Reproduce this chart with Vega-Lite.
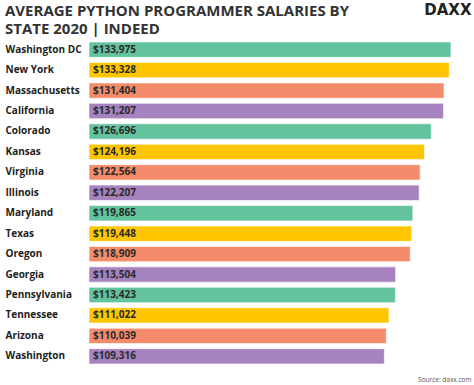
{
  "$schema": "https://vega.github.io/schema/vega-lite/v6.json",
  "width": 474,
  "height": 385,
  "autosize": {"type": "fit", "contains": "padding"},
  "padding": {"left": 5, "right": 3, "top": 2, "bottom": 2},
  "background": "white",
  "title": {
    "text": ["AVERAGE PYTHON PROGRAMMER SALARIES BY", "STATE 2020 | INDEED"],
    "anchor": "start",
    "font": "Open Sans",
    "fontSize": 15,
    "fontWeight": "bold",
    "color": "#333333",
    "lineHeight": 18,
    "offset": -35
  },
  "data": {
    "values": [
      {"state": "Washington DC", "salary": 133975, "group": "1"},
      {"state": "New York", "salary": 133328, "group": "2"},
      {"state": "Massachusetts", "salary": 131404, "group": "3"},
      {"state": "California", "salary": 131207, "group": "4"},
      {"state": "Colorado", "salary": 126696, "group": "1"},
      {"state": "Kansas", "salary": 124196, "group": "2"},
      {"state": "Virginia", "salary": 122564, "group": "3"},
      {"state": "Illinois", "salary": 122207, "group": "4"},
      {"state": "Maryland", "salary": 119865, "group": "1"},
      {"state": "Texas", "salary": 119448, "group": "2"},
      {"state": "Oregon", "salary": 118909, "group": "3"},
      {"state": "Georgia", "salary": 113504, "group": "4"},
      {"state": "Pennsylvania", "salary": 113423, "group": "1"},
      {"state": "Tennessee", "salary": 111022, "group": "2"},
      {"state": "Arizona", "salary": 110039, "group": "3"},
      {"state": "Washington", "salary": 109316, "group": "4"}
    ]
  },
  "encoding": {
    "y": {
      "field": "state",
      "type": "nominal",
      "sort": null,
      "scale": {"paddingInner": 0.25, "paddingOuter": 0.1},
      "axis": {
        "title": null,
        "domain": false,
        "ticks": false,
        "labelAlign": "left",
        "labelPadding": 84,
        "labelFont": "Open Sans",
        "labelFontSize": 10,
        "labelFontWeight": "bold",
        "labelColor": "#222222"
      }
    }
  },
  "layer": [
    {
      "mark": {"type": "bar", "stroke": "#ffffff", "strokeOpacity": 0.6, "strokeWidth": 1},
      "encoding": {
        "x": {
          "field": "salary",
          "type": "quantitative",
          "scale": {"domain": [0, 141400], "nice": false},
          "axis": {
            "orient": "bottom",
            "labels": false,
            "ticks": false,
            "domain": false,
            "grid": false,
            "title": "Source: daxx.com",
            "titleAnchor": "end",
            "titleFont": "Open Sans",
            "titleFontSize": 6.5,
            "titleFontWeight": "normal",
            "titleColor": "#555555",
            "titlePadding": 10
          }
        },
        "color": {
          "field": "group",
          "type": "nominal",
          "legend": null,
          "scale": {"domain": ["1", "2", "3", "4"], "range": ["#63c39d", "#fec601", "#f48b6a", "#a683be"]}
        }
      }
    },
    {
      "mark": {"type": "text", "align": "left", "dx": 4, "font": "Open Sans", "fontSize": 10, "fontWeight": "bold", "color": "#2a2a2a"},
      "encoding": {
        "x": {
          "datum": 0,
          "type": "quantitative",
          "axis": {
            "orient": "top",
            "labels": false,
            "ticks": false,
            "domain": false,
            "grid": false,
            "title": "DAXX",
            "titleAnchor": "end",
            "titleFont": "DejaVu Sans",
            "titleFontSize": 15,
            "titleFontWeight": "bold",
            "titleColor": "#222222",
            "titleBaseline": "alphabetic",
            "titleY": -26
          }
        },
        "text": {"field": "salary", "type": "quantitative", "format": "$,d"}
      }
    }
  ],
  "resolve": {"axis": {"x": "independent"}},
  "config": {"view": {"stroke": null}}
}
